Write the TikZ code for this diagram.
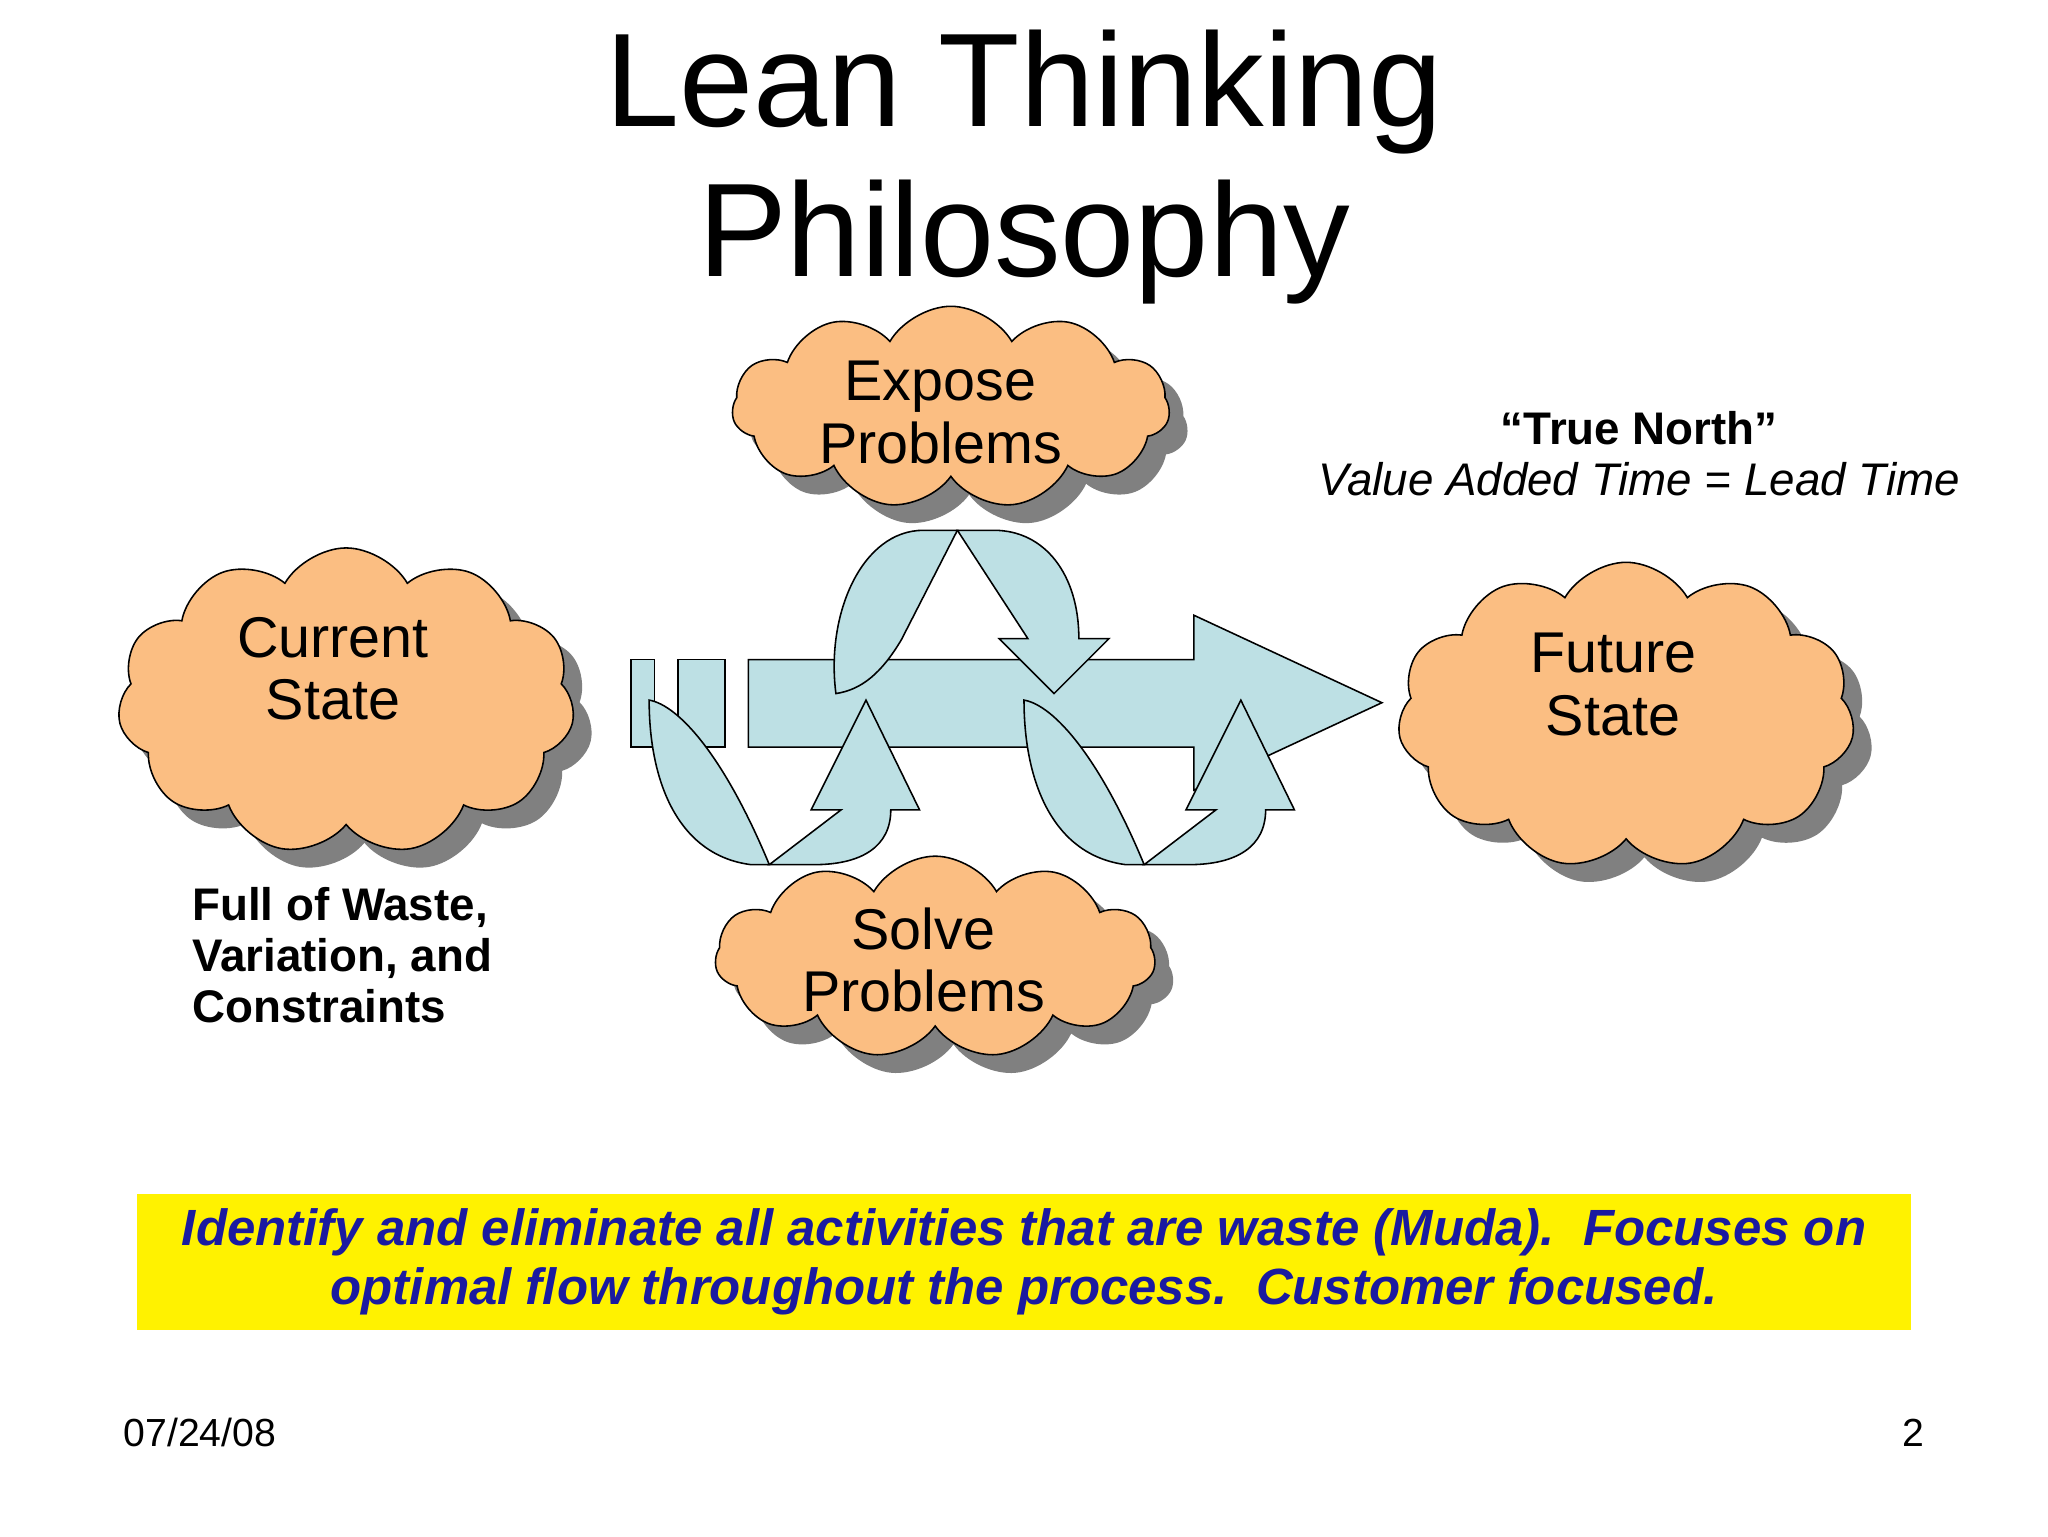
\documentclass[tikz,border=0pt]{standalone}
\usepackage{fontspec}
\setmainfont{Liberation Sans}
\usetikzlibrary{shapes.symbols}
\definecolor{cloudor}{HTML}{FBBE82}
\definecolor{shad}{HTML}{808080}
\definecolor{arr}{HTML}{BDE0E4}
\definecolor{navy}{HTML}{1A1AA0}
\tikzset{
 cl/.style={cloud, cloud puffs=11, cloud puff arc=120, draw=black, line width=1.2pt, fill=cloudor, inner sep=0pt},
 clsh/.style={cloud, cloud puffs=11, cloud puff arc=120, fill=shad, inner sep=0pt},
 ar/.style={draw=black, fill=arr, line width=1.2pt, line join=miter},
 ct/.style={align=center, font=\fontsize{44}{48}\selectfont}
}
\begin{document}
\begin{tikzpicture}[x=1pt,y=-1pt]
\useasboundingbox (0,0) rectangle (1568,1176);
\fill[white] (0,0) rectangle (1568,1176);
\node[align=center, font=\fontsize{102}{115}\selectfont] (title) at (784,128) {Lean Thinking\\Philosophy};
% main arrow
\draw[ar] (483,505) rectangle (501,572);
\draw[ar] (519,505) rectangle (555,572);
\draw[ar] (573,505) -- (914,505) -- (914,471) -- (1058,538) -- (914,605) -- (914,572) -- (573,572) -- cycle;
% top arrows
\draw[ar] (640,531) .. controls (632,470) and (660,406) .. (707,406) -- (733,406) -- (690,490) .. controls (675,515) and (660,528) .. (640,531) -- cycle;
\draw[ar] (733,406) -- (761,406) .. controls (800,406) and (826,440) .. (826,489) -- (849,489) -- (807,531) -- (765,489) -- (787,489) -- cycle;
% bottom arrows
\foreach \dx in {0,287}{
\begin{scope}[xshift=\dx pt]
\draw[ar] (497,536) .. controls (520,540) and (555,580) .. (589,662) -- (575,662) .. controls (520,655) and (497,600) .. (497,536) -- cycle;
\draw[ar] (589,662) -- (644,620) -- (621,620) -- (663,536) -- (704,620) -- (682,620) .. controls (682,648) and (660,662) .. (623,662) -- cycle;
\end{scope}}
% clouds
\foreach \x/\y/\w/\h/\n in {265/537/350/235/cs, 728/312/335/155/ep, 716/733/337/155/sp, 1245/548/350/235/fs}{
 \node[clsh, minimum width=\w pt, minimum height=\h pt] at (\x+14,\y+14) {};
 \node[cl, minimum width=\w pt, minimum height=\h pt] (\n) at (\x,\y) {};
}
\node[ct] (tcs) at (255,512) {Current\\State};
\node[ct] (tep) at (720,316) {Expose\\Problems};
\node[ct] (tsp) at (707,735) {Solve\\Problems};
\node[ct] (tfs) at (1235,524) {Future\\State};
\node[align=center, font=\fontsize{35}{39}\selectfont] (tn) at (1255,347) {\textbf{“True North”}\\\textit{Value Added Time = Lead Time}};
\node[align=left, anchor=north west, font=\bfseries\fontsize{35}{39}\selectfont, inner sep=0pt] (waste) at (147,679) {Full of Waste,\\Variation, and\\Constraints};
\node[fill=yellow, minimum width=1358pt, minimum height=104pt, align=center, text=navy, font=\bfseries\itshape\fontsize{39}{45}\selectfont] (box) at (784,966) {Identify and eliminate all activities that are waste (Muda).\ \ Focuses on\\optimal flow throughout the process.\ \ Customer focused.};
\node[font=\fontsize{30}{36}\selectfont] (date) at (153,1097) {07/24/08};
\node[font=\fontsize{30}{36}\selectfont] (pg) at (1465,1097) {2};
\end{tikzpicture}
\end{document}
